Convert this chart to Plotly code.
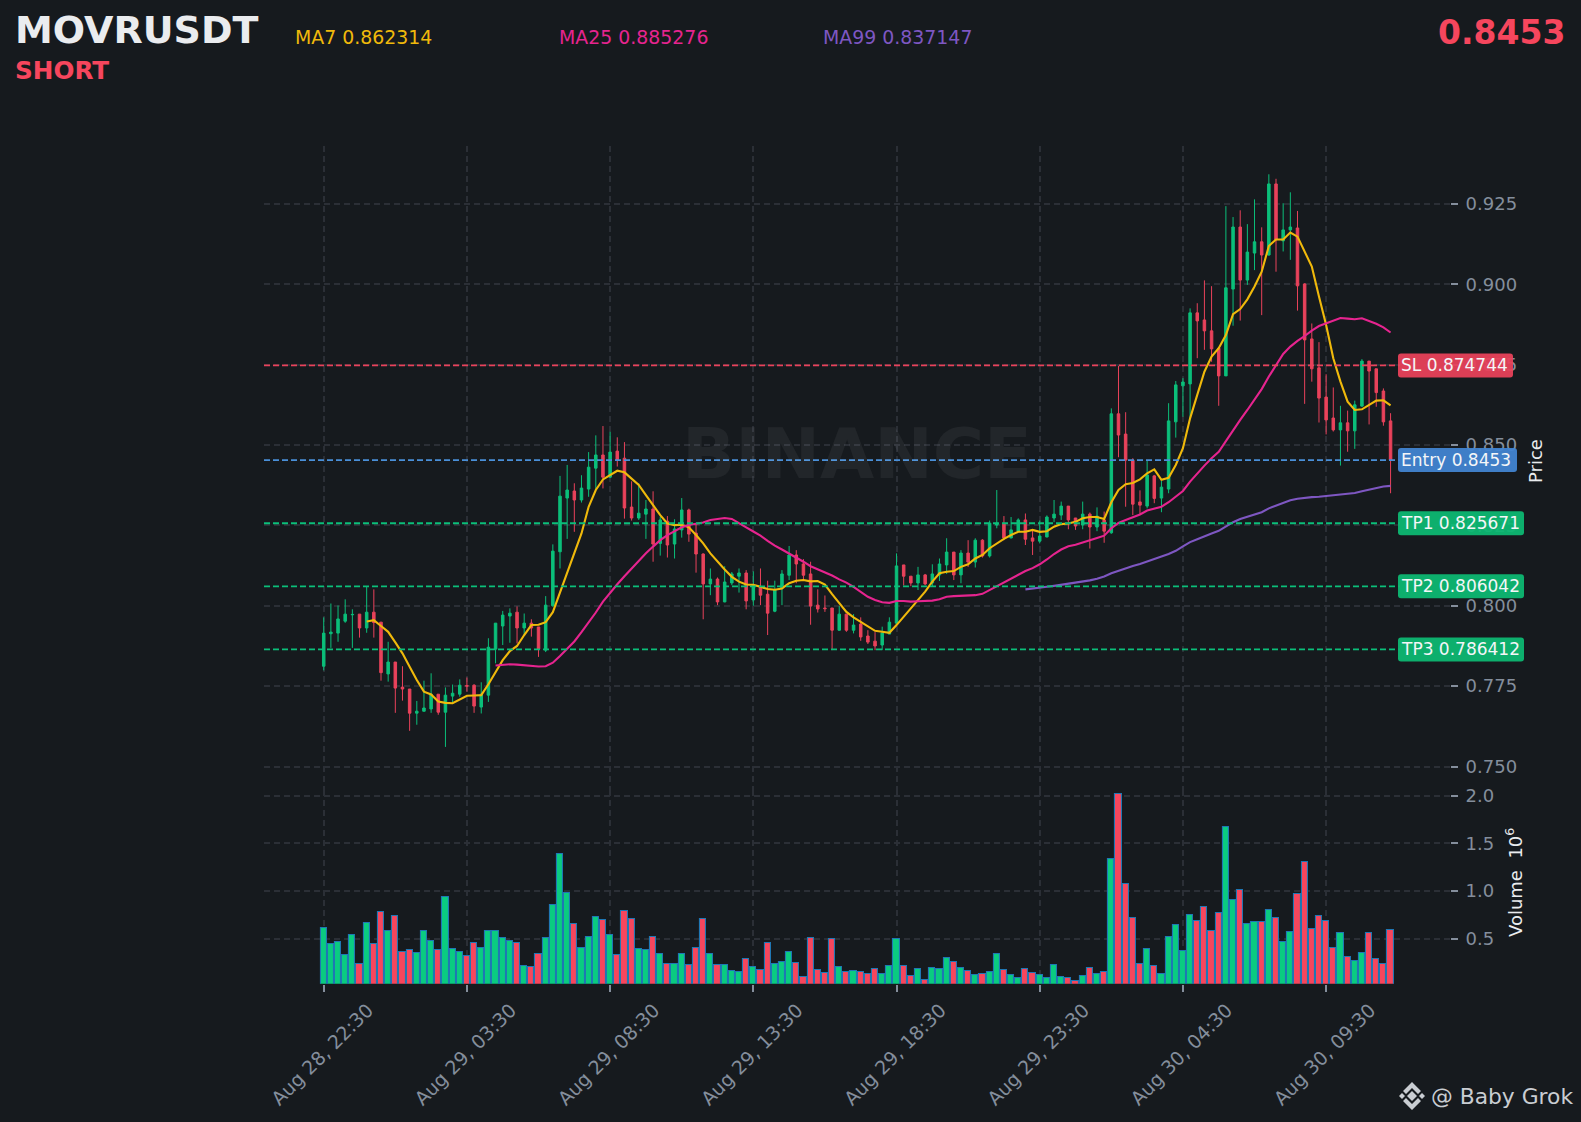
import plotly.graph_objects as go

W = 1581
H = 1122

tick_pos = [0, 20, 40, 60, 80, 100, 120, 140]
tick_labels = ["Aug 28, 22:30", "Aug 29, 03:30", "Aug 29, 08:30", "Aug 29, 13:30",
               "Aug 29, 18:30", "Aug 29, 23:30", "Aug 30, 04:30", "Aug 30, 09:30"]

opens = [.7812, .7913, .7915, .7952, .7972, .7974, .7931, .7980, .7949, .7788,
         .7825, .7747, .7741, .7666, .7672, .7679, .7725, .7669, .7719, .7725,
         .7752, .7753, .7685, .7722, .7865, .7937, .7968, .7980, .7931, .7946,
         .7934, .7862, .8000, .8168, .8335, .8357, .8329, .8363, .8428, .8469,
         .8400, .8481, .8459, .8307, .8273, .8285, .8301, .8194, .8263, .8192,
         .8236, .8298, .8226, .8161, .8068, .8083, .8012, .8071, .8092, .8102,
         .8018, .8058, .8036, .7983, .8055, .8095, .8158, .8130, .8099, .8002,
         .7993, .7993, .7924, .7974, .7924, .7943, .7906, .7890, .7878, .7912,
         .7946, .8127, .8092, .8071, .8096, .8071, .8096, .8127, .8167, .8096,
         .8164, .8136, .8204, .8155, .8251, .8254, .8211, .8232, .8267, .8211,
         .8201, .8214, .8273, .8282, .8310, .8273, .8251, .8285, .8245, .8267,
         .8227, .8597, .8534, .8453, .8323, .8310, .8404, .8335, .8363, .8572,
         .8684, .8690, .8911, .8889, .8855, .8801, .8715, .8985, .9178, .9013,
         .9097, .9132, .9091, .9312, .9135, .9169, .9175, .9001, .8830, .8740,
         .8649, .8584, .8547, .8569, .8544, .8621, .8761, .8737, .8668, .8575]

highs = [.7964, .8007, .8001, .8020, .7989, .7974, .8059, .8051, .7949, .7888,
         .7825, .7812, .7741, .7704, .7767, .7790, .7725, .7746, .7755, .7771,
         .7777, .7756, .7762, .7899, .7946, .7984, .7992, .7998, .7976, .7958,
         .7934, .8030, .8191, .8404, .8438, .8381, .8406, .8478, .8530, .8559,
         .8541, .8524, .8509, .8387, .8381, .8329, .8356, .8277, .8279, .8269,
         .8335, .8302, .8256, .8163, .8116, .8088, .8123, .8105, .8116, .8111,
         .8107, .8116, .8078, .8078, .8111, .8186, .8173, .8145, .8137, .8051,
         .8032, .7993, .7999, .7974, .7974, .7964, .7924, .7918, .7935, .7964,
         .8163, .8127, .8092, .8121, .8099, .8129, .8147, .8210, .8167, .8173,
         .8204, .8210, .8207, .8265, .8360, .8279, .8276, .8272, .8287, .8233,
         .8265, .8281, .8329, .8324, .8310, .8273, .8324, .8290, .8306, .8293,
         .8614, .8746, .8602, .8459, .8359, .8453, .8407, .8388, .8630, .8699,
         .8708, .8925, .8941, .9012, .8994, .8801, .9243, .9209, .9230, .9187,
         .9264, .9177, .9342, .9328, .9252, .9286, .9228, .9003, .8878, .8820,
         .8720, .8679, .8622, .8607, .8638, .8767, .8761, .8737, .8676, .8599]

lows = [.7799, .7869, .7888, .7947, .7869, .7901, .7916, .7901, .7767, .7764,
        .7667, .7705, .7611, .7630, .7671, .7667, .7661, .7561, .7696, .7717,
        .7733, .7667, .7665, .7701, .7821, .7878, .7885, .7883, .7906, .7904,
        .7841, .7856, .7997, .8116, .8208, .8230, .8321, .8339, .8360, .8365,
        .8398, .8433, .8271, .8265, .8267, .8208, .8137, .8156, .8150, .8147,
        .8212, .8199, .8103, .7958, .8033, .8002, .8011, .8064, .8041, .7989,
        .8000, .8002, .7909, .7980, .8002, .8080, .8070, .8080, .7941, .7979,
        .7981, .7862, .7922, .7919, .7914, .7891, .7881, .7862, .7862, .7912,
        .7943, .8063, .8061, .8049, .8064, .8061, .8077, .8099, .8080, .8070,
        .8121, .8119, .8150, .8150, .8241, .8204, .8210, .8230, .8189, .8158,
        .8194, .8213, .8260, .8267, .8238, .8236, .8238, .8178, .8232, .8196,
        .8224, .8462, .8308, .8282, .8284, .8303, .8319, .8291, .8350, .8523,
        .8588, .8583, .8770, .8796, .8759, .8622, .8715, .8871, .8887, .8998,
        .9044, .8904, .9089, .9039, .9102, .9076, .8918, .8628, .8697, .8570,
        .8533, .8542, .8436, .8479, .8488, .8619, .8564, .8619, .8560, .8350]

closes = [.7915, .7918, .7959, .7974, .7973, .7931, .7980, .7948, .7792, .7825,
          .7744, .7741, .7666, .7672, .7682, .7725, .7669, .7722, .7728, .7753,
          .7750, .7688, .7725, .7871, .7946, .7971, .7977, .7931, .7946, .7931,
          .7865, .8002, .8170, .8341, .8360, .8329, .8366, .8431, .8469, .8400,
          .8478, .8453, .8304, .8273, .8288, .8301, .8192, .8267, .8189, .8239,
          .8298, .8223, .8161, .8068, .8083, .8012, .8074, .8099, .8102, .8015,
          .8061, .8033, .7977, .8049, .8099, .8158, .8130, .8095, .7999, .7990,
          .7991, .7924, .7974, .7924, .7940, .7903, .7887, .7875, .7915, .7949,
          .8124, .8092, .8071, .8096, .8068, .8099, .8130, .8167, .8096, .8164,
          .8136, .8204, .8155, .8257, .8257, .8211, .8236, .8267, .8207, .8201,
          .8217, .8276, .8285, .8310, .8267, .8248, .8285, .8245, .8279, .8232,
          .8597, .8531, .8453, .8316, .8313, .8407, .8334, .8369, .8575, .8687,
          .8696, .8911, .8886, .8855, .8799, .8715, .8989, .9178, .9013, .9100,
          .9132, .9091, .9312, .9138, .9169, .9178, .8995, .8827, .8737, .8646,
          .8578, .8547, .8569, .8544, .8625, .8761, .8730, .8663, .8572, .8453]

volumes = [.608, .441, .462, .325, .535, .231, .661, .441, .776, .577,
           .734, .357, .378, .346, .577, .472, .378, .937, .388, .357,
           .315, .451, .399, .577, .577, .503, .472, .451, .210, .199,
           .336, .503, .850, 1.385, .976, .650, .399, .514, .724, .692,
           .535, .325, .787, .703, .388, .378, .514, .336, .231, .231,
           .336, .220, .399, .703, .336, .220, .220, .157, .147, .283,
           .199, .168, .451, .231, .252, .357, .241, .094, .503, .168,
           .136, .493, .199, .147, .157, .147, .126, .178, .126, .210,
           .493, .210, .105, .178, .063, .189, .178, .294, .252, .189,
           .157, .115, .126, .147, .336, .168, .115, .084, .178, .136,
           .115, .084, .220, .094, .084, .052, .105, .189, .126, .147,
           1.332, 2.014, 1.070, .713, .231, .388, .210, .126, .514, .640,
           .367, .745, .682, .829, .577, .766, 1.668, .902, 1.007, .650,
           .671, .671, .797, .713, .462, .566, .965, 1.301, .598, .734,
           .682, .399, .556, .304, .262, .346, .556, .283, .231, .587]

# moving averages, each starts at its own candle
ma7_start = 6
ma7 = [.7951, .7955, .7937, .7919, .7886, .7852, .7810, .7769, .7733, .7724,
       .7702, .7698, .7697, .7709, .7720, .7721, .7722, .7756, .7795, .7831,
       .7859, .7875, .7909, .7940, .7941, .7949, .7980, .8040, .8101, .8161,
       .8225, .8308, .8360, .8393, .8407, .8420, .8415, .8396, .8376, .8344,
       .8313, .8282, .8256, .8251, .8252, .8244, .8220, .8194, .8163, .8137,
       .8113, .8090, .8075, .8066, .8065, .8059, .8052, .8050, .8054, .8070,
       .8078, .8080, .8076, .8077, .8066, .8036, .8007, .7981, .7964, .7950,
       .7937, .7922, .7919, .7916, .7940, .7966, .7989, .8015, .8044, .8075,
       .8101, .8106, .8108, .8121, .8129, .8147, .8158, .8179, .8194, .8208,
       .8220, .8230, .8230, .8236, .8230, .8232, .8246, .8254, .8256, .8261,
       .8272, .8276, .8276, .8270, .8322, .8360, .8378, .8382, .8393, .8412,
       .8424, .8392, .8398, .8438, .8490, .8583, .8656, .8728, .8775, .8801,
       .8842, .8907, .8923, .8953, .8993, .9039, .9119, .9139, .9139, .9161,
       .9148, .9104, .9055, .8962, .8873, .8770, .8697, .8635, .8609, .8611,
       .8625, .8638, .8639, .8623]

ma25_start = 24
ma25 = [.7814, .7816, .7818, .7817, .7815, .7814, .7811, .7812, .7823, .7844,
        .7866, .7889, .7918, .7948, .7979, .8013, .8041, .8067, .8092, .8116,
        .8137, .8163, .8184, .8204, .8220, .8232, .8244, .8251, .8254, .8259,
        .8267, .8271, .8273, .8270, .8256, .8244, .8231, .8218, .8202, .8187,
        .8175, .8163, .8150, .8137, .8123, .8113, .8105, .8094, .8082, .8072,
        .8059, .8044, .8028, .8018, .8011, .8009, .8015, .8015, .8013, .8014,
        .8015, .8016, .8020, .8028, .8030, .8031, .8031, .8033, .8037, .8049,
        .8060, .8073, .8085, .8097, .8108, .8117, .8129, .8144, .8161, .8175,
        .8185, .8190, .8196, .8204, .8211, .8218, .8241, .8258, .8267, .8276,
        .8284, .8296, .8301, .8308, .8322, .8339, .8357, .8386, .8412, .8436,
        .8459, .8479, .8512, .8547, .8578, .8609, .8640, .8674, .8713, .8749,
        .8783, .8806, .8824, .8839, .8856, .8870, .8878, .8888, .8895, .8893,
        .8891, .8894, .8886, .8877, .8866, .8850]

ma99_start = 98
ma99 = [.8051, .8053, .8056, .8059, .8062, .8065, .8069, .8072, .8075, .8079,
        .8084, .8091, .8101, .8109, .8117, .8124, .8130, .8137, .8145, .8153,
        .8161, .8171, .8185, .8198, .8207, .8217, .8225, .8233, .8246, .8260,
        .8270, .8277, .8282, .8291, .8303, .8311, .8320, .8328, .8333, .8336,
        .8338, .8339, .8341, .8343, .8345, .8347, .8351, .8356, .8361, .8366,
        .8371, .8373]

level_values = [0.874744, 0.8453, 0.825671, 0.806042, 0.786412]
level_labels = ["SL 0.874744", "Entry 0.8453", "TP1 0.825671", "TP2 0.806042", "TP3 0.786412"]
level_colors = ["#E9425B", "#4A90D9", "#0BBF7A", "#0BBF7A", "#0BBF7A"]
level_fills = ["rgba(233,66,90,0.94)", "rgba(66,133,210,0.94)", "rgba(13,185,115,0.94)",
               "rgba(13,185,115,0.94)", "rgba(13,185,115,0.94)"]
level_tag_widths = [115, 119, 126, 126, 126]

BG = "#161a1e"
GRID = "#2b2f36"
GRAY = "#848e9c"
GREEN = "#0BBF7A"
RED = "#E9425B"
FONT = "DejaVu Sans"


def px(x):
    return x / W


def py(y):
    return 1 - y / H


xs = list(range(len(closes)))
bar_colors = ["#0ACB81" if c >= o else "#F6465D" for o, c in zip(opens, closes)]

fig = go.Figure()

fig.add_trace(go.Candlestick(x=xs, open=opens, high=highs, low=lows, close=closes,
                             xaxis="x", yaxis="y", whiskerwidth=0,
                             increasing=dict(line=dict(color=GREEN, width=1), fillcolor=GREEN),
                             decreasing=dict(line=dict(color=RED, width=1), fillcolor=RED),
                             showlegend=False, hoverinfo="skip"))

for start, values, color in [(ma7_start, ma7, "#F0B90B"), (ma25_start, ma25, "#E6248F"),
                             (ma99_start, ma99, "#7E57C2")]:
    fig.add_trace(go.Scatter(x=xs[start:start + len(values)], y=values, mode="lines",
                             line=dict(color=color, width=2.1), xaxis="x", yaxis="y",
                             showlegend=False, hoverinfo="skip"))

fig.add_trace(go.Bar(x=xs, y=volumes, xaxis="x2", yaxis="y2", width=0.86,
                     marker=dict(color=bar_colors, line=dict(color="#1f77b4", width=1.1)),
                     showlegend=False, hoverinfo="skip"))

axis_style = dict(showgrid=True, gridcolor=GRID, griddash="6px,4px", gridwidth=1.5,
                  zeroline=False, showline=False, automargin=False)

x_range = [-8.34, 157.3]
x_domain = [px(264), px(1450)]

fig.update_layout(
    width=W, height=H, autosize=False,
    margin=dict(l=0, r=0, t=0, b=0),
    paper_bgcolor=BG, plot_bgcolor=BG,
    font=dict(family=FONT, size=18, color=GRAY),
    boxgap=0.5,
    bargap=0,
    xaxis=dict(domain=x_domain, range=x_range, type="linear", anchor="y", tickvals=tick_pos,
               showticklabels=False, ticks="", rangeslider=dict(visible=False), **axis_style),
    xaxis2=dict(domain=x_domain, range=x_range, type="linear", anchor="y2", matches="x",
                tickvals=tick_pos, ticktext=tick_labels, tickangle=-45, ticks="outside",
                ticklen=7, tickwidth=1.5, tickcolor=GRAY, ticklabelshift=44,
                tickfont=dict(family=FONT, size=19, color=GRAY), **axis_style),
    yaxis=dict(domain=[py(790), py(146)], range=[0.7427, 0.9430], side="right", anchor="x",
               tick0=0.75, dtick=0.025, tickformat=".3f", ticks="outside", ticklen=7,
               tickwidth=1.5, tickcolor=GRAY, ticklabelstandoff=4,
               tickfont=dict(family=FONT, size=18, color=GRAY), **axis_style),
    yaxis2=dict(domain=[py(983.7), py(790)], range=[0.028, 2.06], side="right", anchor="x2",
                tickvals=[0.5, 1.0, 1.5, 2.0], tickformat=".1f", ticks="outside", ticklen=7,
                tickwidth=1.5, tickcolor=GRAY, ticklabelstandoff=4,
                tickfont=dict(family=FONT, size=18, color=GRAY), **axis_style),
)


def rounded_tag(width, height=24, r=3):
    # path in pixels around the anchor, left edge on the anchor, centred on the level
    t, b = -height / 2, height / 2
    return (f"M {r} {t} L {width - r} {t} Q {width} {t} {width} {t + r} L {width} {b - r} "
            f"Q {width} {b} {width - r} {b} L {r} {b} Q 0 {b} 0 {b - r} L 0 {t + r} Q 0 {t} {r} {t} Z")


# horizontal trade levels and their tags
for value, label_text, color, fill, tag_w in zip(level_values, level_labels, level_colors, level_fills, level_tag_widths):
    fig.add_shape(type="line", xref="paper", yref="y", x0=px(264), x1=px(1400), y0=value, y1=value,
                  line=dict(color=color, width=1.8, dash="6px,3px"), layer="above")
    fig.add_shape(type="path", xref="paper", yref="y", xsizemode="pixel", ysizemode="pixel",
                  xanchor=px(1398), yanchor=value, path=rounded_tag(tag_w), fillcolor=fill,
                  line=dict(width=0), layer="above")
    fig.add_annotation(xref="paper", yref="y", x=px(1400), y=value, text=label_text, showarrow=False,
                       xanchor="left", yanchor="middle", borderpad=0,
                       font=dict(family=FONT, size=17, color="#f4f6f8"))


def label(x, y, text, size, color, bold=False, xanchor="left", angle=0):
    fig.add_annotation(xref="paper", yref="paper", x=px(x), y=py(y), text=text, showarrow=False,
                       xanchor=xanchor, yanchor="middle", textangle=angle, borderpad=0, borderwidth=0,
                       font=dict(family=FONT, size=size, color=color, weight="bold" if bold else "normal"))


label(857, 454, "BINANCE", 70, "rgba(255,255,255,0.055)", bold=True, xanchor="center")
label(15, 30, "MOVRUSDT", 38, "#EAECEF", bold=True)
label(15, 71, "SHORT", 24.7, "#F6465D", bold=True)
label(295, 37, "MA7 0.862314", 18.9, "#F0B90B")
label(559, 37, "MA25 0.885276", 18.9, "#E6248F")
label(823, 37, "MA99 0.837147", 18.9, "#7E57C2")
label(1565, 32, "0.8453", 33, "#F6465D", bold=True, xanchor="right")
label(1535, 461, "Price", 18, "#EAECEF", xanchor="center", angle=-90)
label(1514, 883, "Volume  10<sup>6</sup>", 18, "#EAECEF", xanchor="center", angle=-90)
label(1431, 1096, "@ Baby Grok", 21.8, "#C9CDD2")

# little binance logo next to the signature
cx, cy = 1412, 1096


def poly(points):
    return "M " + " L ".join(f"{px(cx + a)} {py(cy + b)}" for a, b in points) + " Z"


logo = [[(0, -5), (5, 0), (0, 5), (-5, 0)],
        [(-10, -3), (-7, 0), (-10, 3), (-13, 0)],
        [(10, -3), (13, 0), (10, 3), (7, 0)],
        [(0, -14), (9, -5), (6, -2), (0, -8), (-6, -2), (-9, -5)],
        [(0, 14), (9, 5), (6, 2), (0, 8), (-6, 2), (-9, 5)]]
for part in logo:
    fig.add_shape(type="path", xref="paper", yref="paper", path=poly(part),
                  fillcolor="#C9CDD2", line=dict(width=0))

fig.write_html("out.html", config={"displayModeBar": False},
               post_script="document.body.style.margin='0';document.body.style.overflow='hidden';")
